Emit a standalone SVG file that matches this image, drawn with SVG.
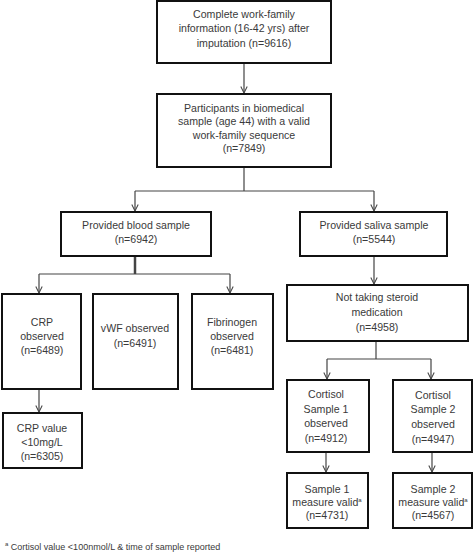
<svg xmlns="http://www.w3.org/2000/svg" width="474" height="553" viewBox="0 0 474 553">
<style>
.box{fill:#fff;stroke:#111;stroke-width:2}
.t{font-family:"Liberation Sans",Arial,sans-serif;font-size:10.6px;fill:#3a3a3a;text-anchor:middle}
.c{fill:none;stroke:#444;stroke-width:1.2}
.fn{font-family:"Liberation Sans",Arial,sans-serif;font-size:9px;fill:#3a3a3a}
</style>
<defs>
<marker id="arr" viewBox="0 0 10 10" refX="9" refY="5" markerWidth="8" markerHeight="8" markerUnits="userSpaceOnUse" orient="auto">
<path d="M1,1 L9,5 L1,9" fill="none" stroke="#444" stroke-width="1.3"/>
</marker>
</defs>
<rect width="474" height="553" fill="#fff"/>
<g id="connectors">
<path class="c" d="M244,63 V93" marker-end="url(#arr)"/>
<path class="c" d="M244,167 V191 M135,191 H374"/>
<path class="c" d="M135,191 V211" marker-end="url(#arr)"/>
<path class="c" d="M374,191 V211" marker-end="url(#arr)"/>
<path class="c" d="M39,274 H230"/>
<path class="c" d="M135,256 V274" style="stroke-width:2.5"/>
<path class="c" d="M39,274 V293" marker-end="url(#arr)"/>
<path class="c" d="M230,274 V293" marker-end="url(#arr)"/>
<path class="c" d="M374,256 V284" marker-end="url(#arr)"/>
<path class="c" d="M376,341 V359 M327,359 H431"/>
<path class="c" d="M327,359 V379" marker-end="url(#arr)"/>
<path class="c" d="M431,359 V379" marker-end="url(#arr)"/>
<path class="c" d="M39,389 V412" marker-end="url(#arr)"/>
<path class="c" d="M326,452 V472" marker-end="url(#arr)"/>
<path class="c" d="M432,452 V472" marker-end="url(#arr)"/>
</g>
<g id="n1"><rect class="box" x="157" y="1" width="174" height="62"/>
<text class="t" x="244" y="18">Complete work-family</text>
<text class="t" x="244" y="32">information (16-42 yrs) after</text>
<text class="t" x="244" y="47">imputation (n=9616)</text></g>
<g id="n2"><rect class="box" x="157" y="94" width="174" height="73"/>
<text class="t" x="244" y="112">Participants in biomedical</text>
<text class="t" x="244" y="125">sample (age 44) with a valid</text>
<text class="t" x="244" y="139">work-family sequence</text>
<text class="t" x="244" y="152">(n=7849)</text></g>
<g id="blood"><rect class="box" x="61" y="212" width="150" height="44"/>
<text class="t" x="136" y="229">Provided blood sample</text>
<text class="t" x="136" y="243">(n=6942)</text></g>
<g id="saliva"><rect class="box" x="300" y="212" width="147" height="44"/>
<text class="t" x="374" y="229">Provided saliva sample</text>
<text class="t" x="374" y="243">(n=5544)</text></g>
<g id="crp"><rect class="box" x="2" y="294" width="79" height="95"/>
<text class="t" x="42" y="326">CRP</text>
<text class="t" x="42" y="340">observed</text>
<text class="t" x="42" y="354">(n=6489)</text></g>
<g id="vwf"><rect class="box" x="93" y="294" width="85" height="95"/>
<text class="t" x="135" y="332">vWF observed</text>
<text class="t" x="135" y="347">(n=6491)</text></g>
<g id="fib"><rect class="box" x="192" y="294" width="81" height="95"/>
<text class="t" x="232" y="326">Fibrinogen</text>
<text class="t" x="232" y="340">observed</text>
<text class="t" x="232" y="354">(n=6481)</text></g>
<g id="steroid"><rect class="box" x="287" y="285" width="181" height="56"/>
<text class="t" x="377" y="301">Not taking steroid</text>
<text class="t" x="377" y="316">medication</text>
<text class="t" x="377" y="331">(n=4958)</text></g>
<g id="cort1"><rect class="box" x="287" y="380" width="82" height="72"/>
<text class="t" x="326" y="398">Cortisol</text>
<text class="t" x="326" y="413">Sample 1</text>
<text class="t" x="326" y="427">observed</text>
<text class="t" x="326" y="442">(n=4912)</text></g>
<g id="cort2"><rect class="box" x="393" y="380" width="79" height="72"/>
<text class="t" x="433" y="399">Cortisol</text>
<text class="t" x="433" y="413">Sample 2</text>
<text class="t" x="433" y="428">observed</text>
<text class="t" x="433" y="443">(n=4947)</text></g>
<g id="crpval"><rect class="box" x="3" y="413" width="79" height="55"/>
<text class="t" x="42" y="432">CRP value</text>
<text class="t" x="42" y="446">&lt;10mg/L</text>
<text class="t" x="42" y="460">(n=6305)</text></g>
<g id="s1"><rect class="box" x="287" y="473" width="81" height="55"/>
<text class="t" x="327" y="493">Sample 1</text>
<text class="t" x="327" y="506">measure valid<tspan font-size="6" dy="-4">a</tspan></text>
<text class="t" x="327" y="519">(n=4731)</text></g>
<g id="s2"><rect class="box" x="393" y="473" width="79" height="55"/>
<text class="t" x="433" y="493">Sample 2</text>
<text class="t" x="433" y="506">measure valid<tspan font-size="6" dy="-4">a</tspan></text>
<text class="t" x="433" y="519">(n=4567)</text></g>
<g id="footnote">
<text class="fn" x="5" y="550"><tspan font-size="6" dy="-4">a</tspan><tspan dy="4"> Cortisol value &lt;100nmol/L &amp; time of sample reported</tspan></text>
</g>
</svg>
